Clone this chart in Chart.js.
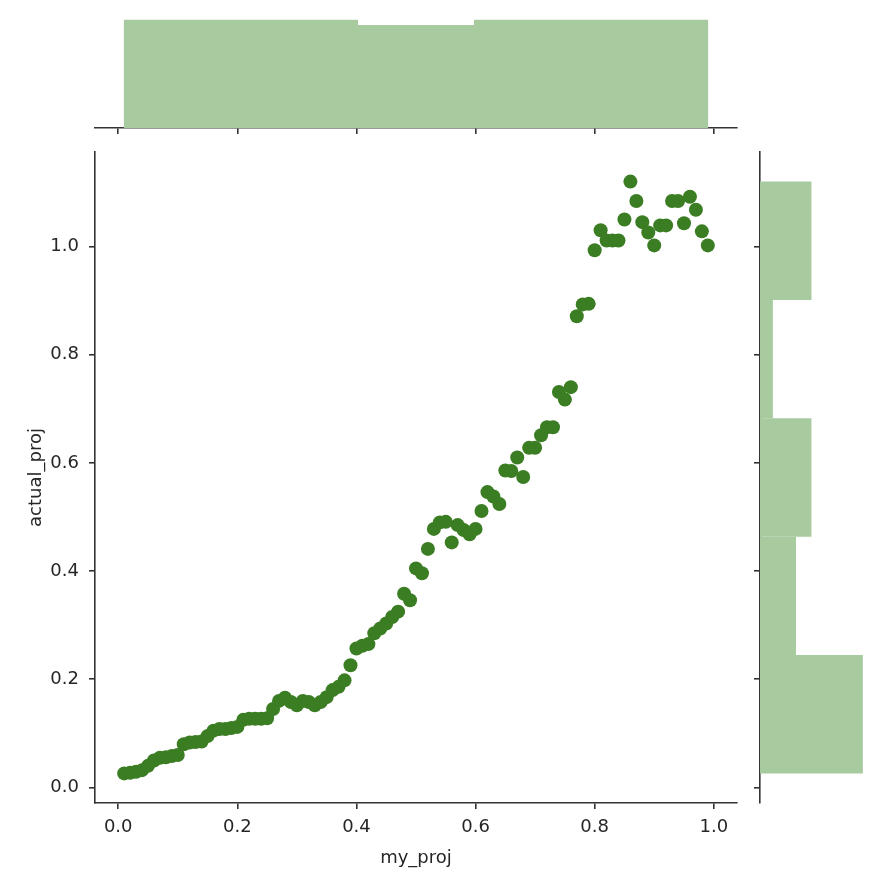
<!DOCTYPE html>
<html>
<head>
<meta charset="utf-8">
<title>my_proj vs actual_proj</title>
<script src="https://cdn.jsdelivr.net/npm/chart.js@4.4.1/dist/chart.umd.min.js"></script>
<style>
  body { margin: 0; background: #fff; }
  #wrap { position: relative; width: 878px; height: 876px; }
  #wrap canvas { position: absolute; left: 0; top: 0; }
</style>
</head>
<body>
<div id="wrap">
  <canvas id="mainChart" width="878" height="876"></canvas>
  <canvas id="topHist" width="878" height="876"></canvas>
  <canvas id="rightHist" width="878" height="876"></canvas>
</div>
<script>
// data
const xVals = [0.01, 0.02, 0.03, 0.04, 0.05, 0.06, 0.07, 0.08, 0.09, 0.10,
  0.11, 0.12, 0.13, 0.14, 0.15, 0.16, 0.17, 0.18, 0.19, 0.20,
  0.21, 0.22, 0.23, 0.24, 0.25, 0.26, 0.27, 0.28, 0.29, 0.30,
  0.31, 0.32, 0.33, 0.34, 0.35, 0.36, 0.37, 0.38, 0.39, 0.40,
  0.41, 0.42, 0.43, 0.44, 0.45, 0.46, 0.47, 0.48, 0.49, 0.50,
  0.51, 0.52, 0.53, 0.54, 0.55, 0.56, 0.57, 0.58, 0.59, 0.60,
  0.61, 0.62, 0.63, 0.64, 0.65, 0.66, 0.67, 0.68, 0.69, 0.70,
  0.71, 0.72, 0.73, 0.74, 0.75, 0.76, 0.77, 0.78, 0.79, 0.80,
  0.81, 0.82, 0.83, 0.84, 0.85, 0.86, 0.87, 0.88, 0.89, 0.90,
  0.91, 0.92, 0.93, 0.94, 0.95, 0.96, 0.97, 0.98, 0.99];

const yVals = [0.026, 0.027, 0.029, 0.032, 0.040, 0.050, 0.055, 0.056, 0.058, 0.060,
  0.080, 0.083, 0.084, 0.085, 0.095, 0.105, 0.108, 0.108, 0.110, 0.112,
  0.125, 0.127, 0.127, 0.127, 0.128, 0.145, 0.160, 0.166, 0.158, 0.152,
  0.160, 0.158, 0.152, 0.158, 0.167, 0.180, 0.186, 0.198, 0.226, 0.257,
  0.262, 0.265, 0.285, 0.294, 0.303, 0.315, 0.325, 0.358, 0.346, 0.405,
  0.396, 0.441, 0.478, 0.490, 0.491, 0.453, 0.485, 0.476, 0.468, 0.478,
  0.511, 0.546, 0.538, 0.524, 0.586, 0.585, 0.610, 0.574, 0.628, 0.628,
  0.651, 0.666, 0.666, 0.731, 0.717, 0.740, 0.871, 0.893, 0.894, 0.993,
  1.030, 1.011, 1.011, 1.011, 1.050, 1.120, 1.084, 1.045, 1.026, 1.002,
  1.039, 1.039, 1.084, 1.084, 1.043, 1.092, 1.068, 1.028, 1.002];

// histogram counts (5 bins each)
const topCounts = [20, 20, 19, 20, 20];
const rightCounts = [40, 14, 20, 5, 20];

const tickValues = [0.0, 0.2, 0.4, 0.6, 0.8, 1.0];

const pointColor = '#3b7d23';
const histColor = '#a7ca9f';
const axisColor = '#333333';
const textColor = '#262626';
const fontFamily = "'DejaVu Sans', sans-serif";

// axis ranges like matplotlib (5% margins)
function padRange(vals) {
  const lo = Math.min(...vals), hi = Math.max(...vals);
  const m = (hi - lo) * 0.05;
  return [lo - m, hi + m];
}
const xRange = padRange(xVals);
const yRange = padRange(yVals);

// bins from the data range
function binCenters(vals, n) {
  const lo = Math.min(...vals), hi = Math.max(...vals);
  const w = (hi - lo) / n;
  const c = [];
  for (let i = 0; i < n; i++) c.push(lo + w * (i + 0.5));
  return { centers: c, width: w };
}
const topBins = binCenters(xVals, topCounts.length);
const rightBins = binCenters(yVals, rightCounts.length);
const tickStep = tickValues[1] - tickValues[0];

const scatterData = xVals.map((x, i) => ({ x: x, y: yVals[i] }));
const topData = topBins.centers.map((c, i) => ({ x: c, y: topCounts[i] }));
const rightData = rightBins.centers.map((c, i) => ({ x: rightCounts[i], y: c }));

function axisTicks(show) {
  return {
    display: show,
    stepSize: tickStep,
    includeBounds: false,
    autoSkip: false,
    color: textColor,
    font: { family: fontFamily, size: 18 },
    callback: (v) => v.toFixed(1)
  };
}
const gridOpts = {
  drawOnChartArea: false,
  drawTicks: true,
  offset: false,
  tickLength: 6,
  color: axisColor,
  lineWidth: 1.6
};
const borderOpts = { display: true, color: axisColor, width: 1.6 };

//main scatter
new Chart(document.getElementById('mainChart'), {
  type: 'scatter',
  data: {
    datasets: [{
      data: scatterData,
      backgroundColor: pointColor,
      borderColor: pointColor,
      borderWidth: 0,
      pointRadius: 7,
      pointHoverRadius: 7
    }]
  },
  options: {
    responsive: false,
    animation: false,
    events: [],
    layout: { autoPadding: false, padding: { left: 0, top: 152, right: 141, bottom: 0 } },
    plugins: { legend: { display: false }, tooltip: { enabled: false } },
    scales: {
      x: {
        type: 'linear',
        min: xRange[0],
        max: xRange[1],
        ticks: Object.assign(axisTicks(true), { padding: 8 }),
        grid: gridOpts,
        border: borderOpts,
        title: {
          display: true,
          text: 'my_proj',
          color: textColor,
          font: { family: fontFamily, size: 18 },
          padding: { top: 0, bottom: 7 }
        },
        afterFit: function (scale) { scale.height = 73; }
      },
      y: {
        type: 'linear',
        min: yRange[0],
        max: yRange[1],
        ticks: Object.assign(axisTicks(true), { padding: 10 }),
        grid: gridOpts,
        border: borderOpts,
        title: {
          display: true,
          text: 'actual_proj',
          color: textColor,
          font: { family: fontFamily, size: 18 },
          padding: { top: 26, bottom: 0 }
        },
        afterFit: function (scale) { scale.width = 95; }
      }
    }
  }
});

//top histogram (my_proj)
new Chart(document.getElementById('topHist'), {
  type: 'bar',
  data: {
    datasets: [{
      data: topData,
      backgroundColor: histColor,
      borderWidth: 0,
      barPercentage: topBins.width / Math.min(topBins.width, tickStep),
      categoryPercentage: 1
    }]
  },
  options: {
    responsive: false,
    animation: false,
    events: [],
    layout: { autoPadding: false, padding: { left: 95, top: 14.6, right: 141, bottom: 0 } },
    plugins: { legend: { display: false }, tooltip: { enabled: false } },
    scales: {
      x: {
        type: 'linear',
        min: xRange[0],
        max: xRange[1],
        offset: false,
        ticks: axisTicks(false),
        grid: gridOpts,
        border: borderOpts,
        afterFit: function (scale) { scale.height = 876 - 128; }
      },
      y: {
        display: false,
        min: 0,
        max: 21
      }
    }
  }
});

//right histogram (actual_proj)
new Chart(document.getElementById('rightHist'), {
  type: 'bar',
  data: {
    datasets: [{
      data: rightData,
      backgroundColor: histColor,
      borderWidth: 0,
      barPercentage: rightBins.width / Math.min(rightBins.width, tickStep),
      categoryPercentage: 1
    }]
  },
  options: {
    indexAxis: 'y',
    responsive: false,
    animation: false,
    events: [],
    layout: { autoPadding: false, padding: { left: 754, top: 152, right: 10, bottom: 73 } },
    plugins: { legend: { display: false }, tooltip: { enabled: false } },
    scales: {
      x: {
        display: false,
        min: 0,
        max: 42
      },
      y: {
        type: 'linear',
        position: 'left',
        min: yRange[0],
        max: yRange[1],
        offset: false,
        ticks: axisTicks(false),
        grid: gridOpts,
        border: borderOpts,
        afterFit: function (scale) { scale.width = 6; }
      }
    }
  }
});
</script>
</body>
</html>
